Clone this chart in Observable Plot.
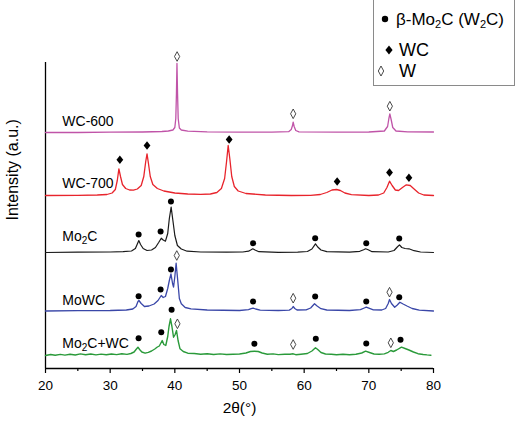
<!DOCTYPE html>
<html>
<head>
<meta charset="utf-8">
<script src="https://cdn.jsdelivr.net/npm/d3@7"></script>
<script src="https://cdn.jsdelivr.net/npm/@observablehq/plot@0.6"></script>
<style>
  html, body { margin: 0; padding: 0; background: #fff; }
  #wrap { position: relative; width: 520px; height: 424px; font-family: "Liberation Sans", Arial, sans-serif; }
  #legend { position: absolute; left: 373px; top: -1px; width: 142px; height: 87px; border: 1px solid #8a8a8a; background: #fff; box-sizing: border-box; }
  #legend .row { position: absolute; font-size: 17px; color: #000; white-space: nowrap; line-height: 1; }
  #legend svg { position: absolute; overflow: visible; }
  #legend sub { font-size: 11px; vertical-align: -3px; line-height: 0; }
</style>
</head>
<body>
<div id="wrap">
  <div id="chart"></div>
  <div id="legend">
    <svg style="left:11px;top:19px" width="1" height="1"><circle cx="0" cy="0" r="3.2" fill="#000"/></svg>
    <div class="row" style="left:22px;top:11px">β-Mo<sub>2</sub>C (W<sub>2</sub>C)</div>
    <svg style="left:15px;top:50px" width="1" height="1"><path d="M0,-4.4L3.6,0L0,4.4L-3.6,0Z" fill="#000"/></svg>
    <div class="row" style="left:25px;top:41px;font-size:18px">WC</div>
    <svg style="left:7px;top:71px" width="1" height="1"><path d="M0,-5L2.7,0L0,5L-2.7,0Z" fill="#fff" stroke="#333" stroke-width="0.9"/></svg>
    <div class="row" style="left:25px;top:62px;font-size:18px">W</div>
  </div>
</div>
<script>
// Tick values
const majorTicks = [20, 30, 40, 50, 60, 70, 80];
const minorTicks = [25, 35, 45, 55, 65, 75];

// Series: [2θ, intensity (a.u., stacked offset)]
const wc600 = [
  [20,236],[25,236],[30,236.3],[35,236.5],[38,237],[39,237.5],[39.7,238.5],[40.0,241],[40.15,250],
  [40.25,275],[40.33,305],[40.42,275],[40.52,250],[40.7,240.5],[41.0,238.5],[42,237.3],[45,236.6],
  [50,236.3],[55,236.3],[57.6,236.8],[58.0,239],[58.2,243],[58.3,246.3],[58.45,242],[58.7,238],
  [59.2,236.6],[65,236.3],[70,236.5],[72.4,237.5],[72.9,242],[73.1,250],[73.25,254.7],[73.45,249],
  [73.7,241],[74.2,237.5],[76,236.6],[80,236.5]
];
const wc700 = [
  [20,173],[25,173.2],[28,173.5],[29.5,174],[30.3,175.5],[30.8,179],[31.1,188],[31.35,199.7],
  [31.6,192],[31.9,184],[32.4,180],[33.0,178.5],[33.6,178.3],[34.2,179.5],[34.8,183],[35.2,192],
  [35.5,207],[35.7,214.7],[35.9,206],[36.2,192],[36.6,184],[37.3,180],[38.3,177.5],[40,175.5],
  [42,174.5],[44,174.2],[45.5,174.5],[46.5,176],[47.2,180],[47.7,190],[48.0,207],[48.25,223],
  [48.5,210],[48.8,192],[49.2,182],[49.8,177.5],[51,175],[54,173.5],[58,173],[61,173.2],
  [62.5,174],[63.5,176],[64.3,178.5],[65.0,179],[65.6,178],[66.3,175.5],[67.3,173.8],[70,173],
  [71.5,173.5],[72.3,175.5],[72.8,181],[73.2,187.3],[73.6,183],[74.1,178.5],[74.6,178],[75.2,181],
  [75.8,183.7],[76.4,183],[77.0,179.5],[77.7,175.5],[78.5,173.5],[80,173]
];
const mo2c = [
  [20,116],[25,116.3],[30,116.5],[32,116.8],[33.3,117.5],[33.9,120],[34.2,124.5],[34.43,128],
  [34.7,124],[35.1,120],[35.7,118],[36.4,118.5],[37.0,121],[37.5,126],[37.9,130.3],[38.2,128.5],
  [38.55,127.3],[38.9,135],[39.15,150],[39.43,161.3],[39.7,148],[40.0,133],[40.4,123],[41.0,119.5],
  [41.9,117.3],[44,116.5],[48,116.3],[50.5,116.5],[51.4,117.3],[51.8,118.7],[52.06,119.7],
  [52.4,118.5],[53.0,116.8],[56,116.2],[59,116.3],[60.5,117],[61.2,119.5],[61.75,124.7],
  [62.1,121.5],[62.6,118.5],[63.5,116.8],[67,116.3],[68.6,117.2],[69.2,118.8],[69.5,119.7],
  [69.9,118.7],[70.5,116.8],[73,116.5],[73.9,118],[74.4,121.5],[74.74,123.7],[75.1,121],
  [75.6,120],[76.2,119.7],[77.0,117.8],[78.0,116.5],[80,116]
];
const mowc = [
  [20,57.5],[25,57.8],[30,58],[32.5,58.5],[33.5,59.5],[34.0,62],[34.3,67],[34.45,68],[34.8,65],
  [35.3,62],[36.0,62.5],[36.8,64.5],[37.4,68],[37.9,73],[38.2,71],[38.55,72],[38.9,80],[39.15,88],
  [39.4,94.7],[39.65,85],[39.8,81.3],[40.0,92],[40.2,105.3],[40.45,88],[40.7,70],[41.0,64.7],
  [41.6,61],[42.5,59.7],[45,58.5],[50,58],[51.4,58.8],[51.8,59.8],[52.1,60.3],[52.5,59.5],
  [53.2,58.3],[56,58],[57.7,58.4],[58.1,60],[58.3,62],[58.55,60],[58.9,58.5],[60.3,58.6],
  [61.0,60.5],[61.6,64.7],[62.0,62.5],[62.6,59.8],[63.5,58.5],[67,58],[68.7,58.8],[69.3,60.5],
  [69.6,61.3],[70.0,60.3],[70.7,58.6],[72,58.5],[72.6,60],[73.0,65],[73.2,69],[73.5,65],
  [74.0,61.3],[74.4,63.5],[74.8,66.3],[75.3,64.5],[75.9,62.5],[76.7,60],[77.8,58.3],[80,57.5]
];
const mo2cwc = [
  [20,13],[20.8,14],[21.5,13.2],[22.3,14.1],[23,13.4],[23.8,14.3],[24.6,13.5],[25.4,14.6],
  [26.2,13.8],[27,14.5],[27.8,13.6],[28.6,14.4],[29.4,13.7],[30.2,14.5],[31,13.9],[31.8,14.8],
  [32.6,14.1],[33.2,15],[33.7,16.5],[34.0,19],[34.3,21.3],[34.55,19],[34.9,16.5],[35.4,15.3],
  [35.9,16.2],[36.4,17.5],[36.9,19.5],[37.3,21.5],[37.6,22.5],[38.05,28],[38.3,24],[38.6,23],
  [38.9,32],[39.1,42],[39.33,49.7],[39.55,42],[39.8,31.3],[40.05,34],[40.26,38],[40.5,28],
  [40.8,19.7],[41.3,17],[42,15.3],[43,15],[44,14.3],[45,14.8],[46,14],[47,14.6],[48,14],
  [49,14.3],[50,14.5],[51,15.5],[51.7,17],[52.3,17.3],[52.9,17],[53.5,15.5],[54.3,14.3],
  [55.2,14.6],[56,13.9],[57,14.3],[57.8,14.3],[58.3,14.7],[58.7,13.8],[59.5,14.3],[60.5,15],
  [61.2,17.5],[61.75,20.7],[62.1,19],[62.6,16],[63.3,14.5],[64.2,14.2],[65,13.7],[66,14.2],
  [67,13.8],[68,14.3],[68.9,15.5],[69.5,17.3],[70.1,16],[70.8,14.5],[71.6,14.3],[72.4,14.6],
  [73.0,16.2],[73.4,18],[73.8,17],[74.3,18.5],[75.05,21.3],[75.6,20],[76.2,18.5],[76.9,16.5],
  [77.6,14.8],[78.4,14],[79.0,13.6],[79.6,13.3]
];

// Phase markers
const mo2cMarks = [
  [34.4,134],[37.8,137],[39.4,167],[52.1,125.3],[61.7,130.3],[69.6,125.3],[74.7,130],
  [34.4,72.3],[37.8,79],[39.4,99],[52.1,67],[61.7,72],[69.6,67],[74.7,71.3],
  [34.4,30.3],[37.9,36.3],[39.5,58.7],[52.3,24.7],[61.8,29.7],[69.6,25],[74.9,28.7]
];
const wcMarks = [[31.5,208.7],[35.7,223],[48.4,229],[65.1,187],[73.2,196],[76.2,190.7]];
const wMarks = [
  [40.35,312],[58.3,254.7],[73.25,262.3],
  [40.3,113],[58.3,70.3],[73.2,76.3],
  [40.4,44.7],[58.3,24],[73.4,25.7]
];

// Series labels
const seriesLabels = [
  {x:22.6, y:243, text:"WC-600"},
  {x:22.6, y:181, text:"WC-700"},
  {x:22.6, y:128, text:"Mo2C"},
  {x:22.6, y:64, text:"MoWC"},
  {x:22.6, y:21, text:"Mo2C+WC"}
];

const series = [
  {data: wc600, color: "#c054a8", w: 1.3},
  {data: wc700, color: "#e8242c", w: 1.3},
  {data: mo2c, color: "#1a1a1a", w: 1.2},
  {data: mowc, color: "#3a47a8", w: 1.3},
  {data: mo2cwc, color: "#2a9a3a", w: 1.4}
];

const filledDiamond = {draw(c){c.moveTo(0,-4.2);c.lineTo(3.4,0);c.lineTo(0,4.2);c.lineTo(-3.4,0);c.closePath();}};
const openDiamond = {draw(c){c.moveTo(0,-4.8);c.lineTo(2.6,0);c.lineTo(0,4.8);c.lineTo(-2.6,0);c.closePath();}};

const font = "Liberation Sans, Arial, sans-serif";

const chart = Plot.plot({
  width: 520,
  height: 424,
  marginLeft: 45,
  marginRight: 87,
  marginTop: 62,
  marginBottom: 56,
  style: {fontFamily: font, background: "transparent", overflow: "visible"},
  x: {domain: [20, 80], label: null},
  y: {domain: [0, 306], axis: null, label: null},
  marks: [
    Plot.axisX({ticks: minorTicks, tickSize: 3, tickFormat: () => "", label: null, strokeWidth: 1.2}),
    Plot.axisX({ticks: majorTicks, tickSize: 5, tickPadding: 7, fontSize: 13.5, tickFormat: d => String(d), label: null, strokeWidth: 1.2, fill: "#000"}),
    Plot.ruleX([20], {stroke: "#000", strokeWidth: 1.3}),
    Plot.ruleY([0], {stroke: "#000", strokeWidth: 1.3}),
    ...series.map(s => Plot.line(s.data, {x: d => d[0], y: d => d[1], stroke: s.color, strokeWidth: s.w, curve: "linear"})),
    Plot.dot(mo2cMarks, {x: d => d[0], y: d => d[1], r: 3, fill: "#000", stroke: null}),
    Plot.dot(wcMarks, {x: d => d[0], y: d => d[1], symbol: filledDiamond, fill: "#000", stroke: null}),
    Plot.dot(wMarks, {x: d => d[0], y: d => d[1], symbol: openDiamond, fill: "#fff", stroke: "#333", strokeWidth: 0.9}),
    Plot.text(seriesLabels, {x: "x", y: "y", text: "text", textAnchor: "start", lineAnchor: "bottom", fontSize: 14, fill: "#000"}),
    Plot.text(["Intensity (a.u.)"], {frameAnchor: "left", dx: -33, dy: 5, rotate: -90, fontSize: 16, fill: "#000"}),
    Plot.text(["2θ(°)"], {frameAnchor: "bottom", dy: 44, fontSize: 15.5, fill: "#000"})
  ]
});

// subscripts for Mo2C labels
for (const t of chart.querySelectorAll("text")) {
  const s = t.textContent;
  if (t.childElementCount === 0 && /^Mo2C/.test(s)) {
    const rest = s.slice(3);
    t.textContent = "Mo";
    const sub = document.createElementNS("http://www.w3.org/2000/svg", "tspan");
    sub.setAttribute("dy", "3");
    sub.setAttribute("font-size", "10");
    sub.textContent = "2";
    const after = document.createElementNS("http://www.w3.org/2000/svg", "tspan");
    after.setAttribute("dy", "-3");
    after.textContent = rest;
    t.appendChild(sub);
    t.appendChild(after);
  }
}

document.getElementById("chart").appendChild(chart);
</script>
</body>
</html>
